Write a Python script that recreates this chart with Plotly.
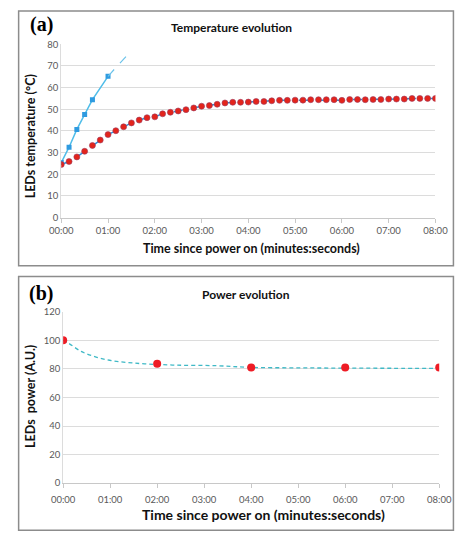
import plotly.graph_objects as go

# ---------------- data ----------------
temp_time_s = list(range(0, 490, 10))
temp_values = [24.5, 25.9, 28.0, 30.6, 33.3, 35.8, 38.3, 40.1, 41.9, 43.7,
               45.0, 46.1, 46.5, 47.9, 48.6, 49.2, 49.8, 50.6, 51.4, 51.7,
               52.3, 52.9, 53.2, 53.2, 53.3, 53.6, 53.6, 53.9, 54.1, 54.1,
               54.2, 54.2, 54.4, 54.4, 54.4, 54.4, 54.1, 54.5, 54.5, 54.4,
               54.5, 54.5, 54.7, 54.7, 54.7, 55.0, 55.0, 55.0, 55.0]

fast_time_s = [0, 10, 20, 30, 40, 60]
fast_values = [25.4, 32.5, 40.7, 47.6, 54.4, 65.2]
fast_trend_time_s = [60, 72, 83]
fast_trend_values = [65.2, 70.0, 74.3]

power_time_s = [0, 120, 240, 360, 480]
power_values = [100, 83.5, 81, 81, 81]
power_fit_time_s = [0, 7, 23, 43, 63, 83, 104, 144, 196, 240, 300, 360, 420, 480]
power_fit_values = [100, 97.9, 92.2, 88.1, 85.6, 84.4, 83.5, 82.6, 82.2, 81.0, 80.7, 80.5, 80.4, 80.3]

tick_seconds = list(range(0, 481, 60))
tick_labels = ["00:00", "01:00", "02:00", "03:00", "04:00", "05:00", "06:00", "07:00", "08:00"]

W, H = 474, 544
FONT = "Lato"

fig = go.Figure()

# panel (a)
fig.add_trace(go.Scatter(x=fast_time_s, y=fast_values, mode="lines+markers",
                         line=dict(color="#4fbde9", width=1.5),
                         marker=dict(symbol="square", size=5, color="#2f9be0"),
                         xaxis="x", yaxis="y", showlegend=False))
fig.add_trace(go.Scatter(x=fast_trend_time_s, y=fast_trend_values, mode="lines",
                         line=dict(color="#6cc3ea", width=1.2, dash="dash", shape="spline"),
                         xaxis="x", yaxis="y", showlegend=False))
fig.add_trace(go.Scatter(x=temp_time_s, y=temp_values, mode="lines+markers",
                         line=dict(color="#2f8fd8", width=1.5, dash="dash"),
                         marker=dict(symbol="circle", size=6, color="#e3241b",
                                     line=dict(color="#9a3a60", width=0.6)),
                         xaxis="x", yaxis="y", showlegend=False))

# panel (b)
fig.add_trace(go.Scatter(x=power_fit_time_s, y=power_fit_values, mode="lines",
                         line=dict(color="#3fb9c6", width=1.3, dash="4px,3px", shape="spline"),
                         xaxis="x2", yaxis="y2", showlegend=False))
fig.add_trace(go.Scatter(x=power_time_s, y=power_values, mode="markers",
                         marker=dict(symbol="circle", size=8, color="#ee1c25"),
                         xaxis="x2", yaxis="y2", showlegend=False))

def px_x(p):
    return p / W

def px_y(p):
    return 1 - p / H

axis_common = dict(
    showgrid=False, zeroline=False, showline=True, linecolor="#c8c8c8", linewidth=1,
    ticks="outside", ticklen=4, tickcolor="#c8c8c8",
    tickfont=dict(family=FONT, size=9.5, color="#595959"),
    tickvals=tick_seconds, ticktext=tick_labels, range=[0, 480],
)
yaxis_common = dict(
    showgrid=True, gridcolor="#dcdcdc", gridwidth=1, zeroline=False,
    showline=True, linecolor="#dcdcdc", linewidth=1, ticks="",
    tickfont=dict(family=FONT, size=9.5, color="#595959"),
)

fig.update_layout(
    width=W, height=H, margin=dict(l=0, r=0, t=0, b=0),
    paper_bgcolor="white", plot_bgcolor="white",
    xaxis=dict(domain=[px_x(52), px_x(447)], anchor="y", **axis_common),
    yaxis=dict(domain=[px_y(216), px_y(39)], anchor="x", range=[0, 80], dtick=10, **yaxis_common),
    xaxis2=dict(domain=[px_x(54), px_x(451)], anchor="y2", ticklabelstandoff=3, **axis_common),
    yaxis2=dict(domain=[px_y(487), px_y(312)], anchor="x2", range=[0, 120], dtick=20, **yaxis_common),
)

shapes = [
    dict(type="rect", xref="paper", yref="paper", x0=px_x(7), x1=px_x(466), y0=px_y(265), y1=px_y(5),
         line=dict(color="#8c8c8c", width=1.5), fillcolor="rgba(0,0,0,0)", layer="below"),
    dict(type="rect", xref="paper", yref="paper", x0=px_x(7), x1=px_x(466), y0=px_y(535), y1=px_y(276),
         line=dict(color="#8c8c8c", width=1.5), fillcolor="rgba(0,0,0,0)", layer="below"),
]
fig.update_layout(shapes=shapes)

def ann(text, x, y, size, bold=True, angle=0, family=FONT, color="#111111"):
    t = f"<b>{text}</b>" if bold else text
    return dict(text=t, x=px_x(x), y=px_y(y), xref="paper", yref="paper",
                showarrow=False, xanchor="center", yanchor="middle", textangle=angle,
                font=dict(family=family, size=size, color=color))

annotations = [
    ann("(a)", 31, 19, 20, family="Liberation Serif", color="#000000"),
    ann("(b)", 31, 293, 20, family="Liberation Serif", color="#000000"),
    ann("Temperature evolution", 232, 22, 12),
    ann("Power evolution", 247, 294, 12),
    ann("Time since power on (minutes:seconds)", 253, 247, 12.5),
    ann("Time since power on (minutes:seconds)", 266, 519, 14),
    ann("LEDs temperature (°C)", 19, 133, 12.5, angle=-90),
    ann("LEDs  power (A.U.)", 20, 398, 12.5, angle=-90),
]
fig.update_layout(annotations=annotations)

fig.write_html("out.html")
